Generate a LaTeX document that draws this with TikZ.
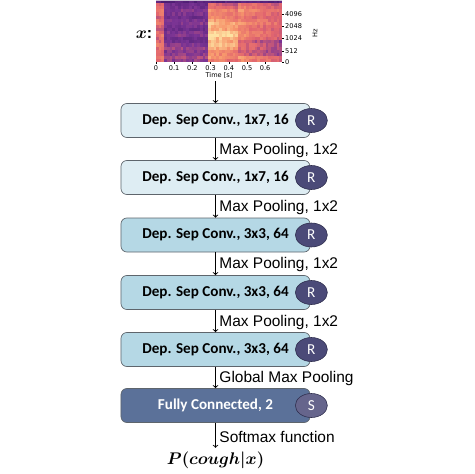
\documentclass[tikz,border=0pt]{standalone}
\usepackage{fontspec}
\setmainfont{Liberation Sans}
\newfontfamily\boxfont{Carlito}
\newfontfamily\plotfont{DejaVu Sans}
\usepackage{amsmath}
\usepackage{bm}
\usetikzlibrary{shapes.geometric}
\usetikzlibrary{positioning}

\definecolor{lightconv}{HTML}{DEEDF3}
\definecolor{midconv}{HTML}{B5D8E5}
\definecolor{fcfill}{HTML}{5B7199}
\definecolor{boxline}{HTML}{5E656C}
\definecolor{actfill}{HTML}{4B4A78}
\definecolor{actline}{HTML}{2F2E4E}
\definecolor{magA}{HTML}{3A1465}
\definecolor{magB}{HTML}{7B3494}
\definecolor{magC}{HTML}{E2666E}
\definecolor{magD}{HTML}{F7976C}
\definecolor{magE}{HTML}{FDE2A2}
\definecolor{specrim}{HTML}{C9BCD2}

% colour of one spectrogram cell
\newcommand\specshade[1]{%
  \pgfmathsetmacro\specv{min(max(#1,0),1)}%
  \ifdim\specv pt<0.35pt
    \pgfmathsetmacro\specp{\specv/0.35*100}\colorlet{cell}{magB!\specp!magA}%
  \else\ifdim\specv pt<0.6pt
    \pgfmathsetmacro\specp{(\specv-0.35)/0.25*100}\colorlet{cell}{magC!\specp!magB}%
  \else\ifdim\specv pt<0.8pt
    \pgfmathsetmacro\specp{(\specv-0.6)/0.2*100}\colorlet{cell}{magD!\specp!magC}%
  \else
    \pgfmathsetmacro\specp{(\specv-0.8)/0.2*100}\colorlet{cell}{magE!\specp!magD}%
  \fi\fi\fi}

\tikzset{
  convbox/.style={draw=boxline, line width=0.6pt, rounded corners=5pt,
    minimum width=5.67cm, minimum height=1.02cm, inner sep=0pt,
    font=\boxfont\bfseries\fontsize{12.9}{14}\selectfont},
  act/.style={ellipse, draw=actline, line width=0.5pt, fill=actfill,
    minimum width=0.96cm, minimum height=0.72cm, inner sep=0pt,
    text=white, font=\boxfont\fontsize{13}{14}\selectfont},
  flow/.style={->, line width=0.8pt},
  poollbl/.style={anchor=west, inner sep=1pt, xshift=2pt, yshift=-1pt,
    font=\fontsize{13.2}{15}\selectfont},
  ticklbl/.style={inner sep=0pt, font=\plotfont\fontsize{5.6}{6}\selectfont},
  mathlbl/.style={inner sep=3pt, font=\fontsize{13.5}{15}\selectfont}
}

\begin{document}
\begin{tikzpicture}[x=0.03cm, y=-0.03cm]
\useasboundingbox (0,0) rectangle (474,474);

% spectrogram
\pgfmathsetseed{12}
\begin{scope}
  \clip (156,0) rectangle (282,62);
  \foreach \col in {0,...,45}{
    \foreach \row in {0,...,19}{
      \pgfmathsetmacro\tm{(\col+0.5)*0.015}
      \pgfmathsetmacro\vv{(\row>18 ? 0.12 : (\tm<0.045 ? 0.62 : (\tm<0.29 ? 0.32+(\row<5 ? 0.08 : 0) : (\tm<0.45 ? 1.0-0.035*abs(\row-8)-0.6*(\tm-0.29) : 0.74-0.7*(\tm-0.45)-(and(\row>1,\row<7) ? 0.14 : 0))))) + 0.05*sin(\row*97) + 0.14*rnd - 0.07}
      \specshade{\vv}
      \fill[cell] ({156+\col*2.74},{62-\row*3.1}) rectangle ({156+(\col+1)*2.74+0.3},{62-(\row+1)*3.1-0.3});
    }
  }
  \fill[specrim] (156,0) rectangle (282,1.2);
\end{scope}
\foreach \tk/\lb in {0/0, 1/0.1, 2/0.2, 3/0.3, 4/0.4, 5/0.5, 6/0.6}{
  \draw[line width=0.3pt] ({156+18.2*\tk},62) -- ({156+18.2*\tk},63.5);
  \node[ticklbl] at ({156+18.2*\tk},68) {\lb};
}
\foreach \yy/\lb in {14/4096, 26/2048, 38/1024, 51/512, 62/0}{
  \draw[line width=0.3pt] (282,\yy) -- (283.5,\yy);
  \node[ticklbl, anchor=west] at (285,\yy) {\lb};
}
\node[ticklbl, rotate=90] (hz) at (315,33) {Hz};
\node[ticklbl] (tlabel) at (219,75) {Time [s]};
\node[mathlbl] (xin) at (144,35) {$\bm{x}$\textbf{:}};

% network
\node[convbox, fill=lightconv] (c1) at (215.5,120.5) {Dep. Sep Conv., 1x7, 16};
\node[convbox, fill=lightconv] (c2) at (215.5,177.5) {Dep. Sep Conv., 1x7, 16};
\node[convbox, fill=midconv] (c3) at (215.5,235) {Dep. Sep Conv., 3x3, 64};
\node[convbox, fill=midconv] (c4) at (215.5,292.5) {Dep. Sep Conv., 3x3, 64};
\node[convbox, fill=midconv] (c5) at (215.5,349.5) {Dep. Sep Conv., 3x3, 64};
\node[convbox, fill=fcfill, text=white] (fc) at (215.5,405.5) {Fully Connected, 2};

\foreach \b in {c1,c2,c3,c4,c5}
  \node[act] (r\b) at ([xshift=0.03cm]\b.east) {R};
\node[act, fill=actfill!85!white] (sfc) at ([xshift=0.03cm]fc.east) {S};

\node[mathlbl] (out) at (215.5,460) {$\bm{P(cough|x)}$};

\draw[flow] (tlabel.south -| c1.north) ++(0,3) -- (c1.north);
\draw[flow] (c1) -- node[poollbl]{Max Pooling, 1x2} (c2);
\draw[flow] (c2) -- node[poollbl]{Max Pooling, 1x2} (c3);
\draw[flow] (c3) -- node[poollbl]{Max Pooling, 1x2} (c4);
\draw[flow] (c4) -- node[poollbl]{Max Pooling, 1x2} (c5);
\draw[flow] (c5) -- node[poollbl]{Global Max Pooling} (fc);
\draw[flow] (fc) -- node[poollbl]{Softmax function} (out);
\end{tikzpicture}
\end{document}
